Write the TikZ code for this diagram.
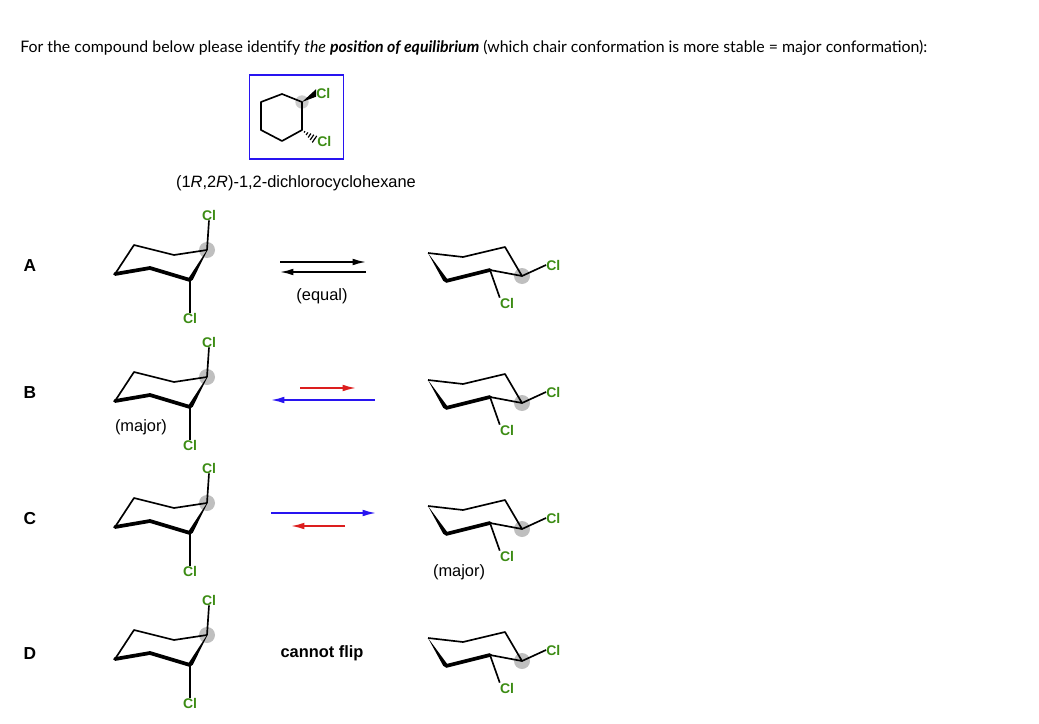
\documentclass[tikz,border=0pt]{standalone}
\usepackage{fontspec}
\setmainfont{Liberation Sans}
\newfontfamily\latofont{Lato}
\usetikzlibrary{arrows.meta,calc}
\definecolor{clgreen}{RGB}{60,140,20}
\definecolor{arrred}{RGB}{220,30,30}
\definecolor{arrblue}{RGB}{40,20,240}
\tikzset{
 bond/.style={line width=1.25pt,line join=round},
 boldbond/.style={line width=2.8pt,line join=round,line cap=round},
 cl/.style={text=clgreen,font=\bfseries\fontsize{10.5}{12}\selectfont,inner sep=0pt},
 lbl/.style={font=\fontsize{12.3}{14}\selectfont,inner sep=0pt},
 rowlbl/.style={font=\bfseries\fontsize{13}{15}\selectfont,inner sep=0pt},
 dot/.style={circle,fill=black!25,minimum size=12pt,inner sep=0pt},
 eqarrow/.style={line width=1.2pt,-{Latex[length=10pt,width=5pt]}},
}
\newcommand{\leftchair}[2]{%
 \begin{scope}[yshift=#2]
 \node[dot] (LD#1) at (207,250) {};
 \coordinate (LA#1) at (115,274); \coordinate (LB#1) at (134,245);
 \coordinate (LC#1) at (174,255); \coordinate (LDD#1) at (207,250);
 \coordinate (LE#1) at (190,280); \coordinate (LF#1) at (150,268);
 \draw[bond] (LF#1)--(LA#1)--(LB#1)--(LC#1)--(LDD#1);
 \draw[boldbond] (LA#1)--(LF#1)--(LE#1);
 \fill ([xshift=-2]LE#1) -- (LDD#1) -- ([xshift=0.4]LDD#1) -- ([xshift=2]LE#1) -- cycle;
 \node[cl] (LCa#1) at (209,215) {Cl};
 \node[cl] (LCb#1) at (190,318) {Cl};
 \draw[bond] (LDD#1)--(LCa#1.south);
 \draw[bond] (LE#1)--(LCb#1.north);
 \end{scope}}
\newcommand{\rightchair}[2]{%
 \begin{scope}[yshift=#2]
 \node[dot] (RD#1) at (522,276) {};
 \coordinate (P1#1) at (428,253); \coordinate (P2#1) at (446,281);
 \coordinate (P3#1) at (490,270); \coordinate (P4#1) at (522,276);
 \coordinate (P5#1) at (505,247); \coordinate (P6#1) at (463,257);
 \draw[bond] (P3#1)--(P4#1)--(P5#1)--(P6#1)--(P1#1);
 \draw[boldbond] (P2#1)--(P3#1);
 \fill (P1#1) -- ([xshift=-2]P2#1) -- ([xshift=2]P2#1) -- cycle;
 \node[cl,anchor=west] (RCa#1) at (546,265) {Cl};
 \node[cl] (RCb#1) at (507,303) {Cl};
 \draw[bond] (P4#1)--(RCa#1.west);
 \draw[bond] (P3#1)--(RCb#1.north west);
 \end{scope}}
\begin{document}
\begin{tikzpicture}[x=0.75pt,y=-0.75pt]
\useasboundingbox (0,0) rectangle (1039,724);
\node[anchor=west,inner sep=0pt,font=\latofont\fontsize{11.9}{13}\selectfont] (title) at (20,48)
 {For the compound below please identify \textit{the} \textbf{\textit{position of equilibrium}} (which chair conformation is more stable = major conformation):};
% top molecule
\node[draw=arrblue,line width=0.9pt,minimum width=71pt,minimum height=63pt,inner sep=0pt] (box) at (296.5,117) {};
\coordinate (h1) at (282,94); \coordinate (h2) at (302,102); \coordinate (h3) at (302,130);
\coordinate (h4) at (282,141); \coordinate (h5) at (261,130); \coordinate (h6) at (261,102);
\node[circle,fill=black!20,minimum size=10pt,inner sep=0pt] (hd) at (302,102) {};
\draw[bond] (h1)--(h2)--(h3)--(h4)--(h5)--(h6)--cycle;
\node[cl,anchor=west] (tc1) at (316,93) {Cl};
\node[cl,anchor=west] (tc2) at (317,141) {Cl};
\fill (h2) -- ([yshift=-2.8]tc1.west) -- ([yshift=2.8]tc1.west) -- cycle;
\foreach \i in {1,...,5}{\draw[line width=0.9pt] ($(h3)!\i/6!(tc2.west)+(0.45*\i,-0.65*\i)$) -- ($(h3)!\i/6!(tc2.west)-(0.45*\i,-0.65*\i)$);}
\node[lbl] (name) at (296,183) {(1\textit{R},2\textit{R})-1,2-dichlorocyclohexane};
% chairs
\leftchair{a}{0}\rightchair{a}{0}
\leftchair{b}{-95.25}\rightchair{b}{-95.25}
\leftchair{c}{-189.75}\rightchair{c}{-189.75}
\leftchair{d}{-288.75}\rightchair{d}{-288.75}
% row labels
\node[rowlbl] (A) at (30,266) {A};
\node[rowlbl] (B) at (30,393) {B};
\node[rowlbl] (C) at (30,519) {C};
\node[rowlbl] (D) at (30,654) {D};
% arrows
\coordinate (a1) at (280,262); \coordinate (a2) at (366,262);
\coordinate (a3) at (366,272); \coordinate (a4) at (280,272);
\draw[eqarrow] (a1)--(a2); \draw[eqarrow] (a3)--(a4);
\node[lbl] (eq) at (322,296) {(equal)};
\coordinate (b1) at (300,388); \coordinate (b2) at (356,388);
\coordinate (b3) at (375,400); \coordinate (b4) at (271,400);
\draw[eqarrow,arrred] (b1)--(b2); \draw[eqarrow,arrblue] (b3)--(b4);
\node[lbl] (majb) at (141,427) {(major)};
\coordinate (c1) at (271,513); \coordinate (c2) at (376,513);
\coordinate (c3) at (345,526); \coordinate (c4) at (291,526);
\draw[eqarrow,arrblue] (c1)--(c2); \draw[eqarrow,arrred] (c3)--(c4);
\node[lbl] (majc) at (459,572) {(major)};
\node[lbl,font=\bfseries\fontsize{12.3}{14}\selectfont] (cf) at (322,653) {cannot flip};
\end{tikzpicture}
\end{document}
